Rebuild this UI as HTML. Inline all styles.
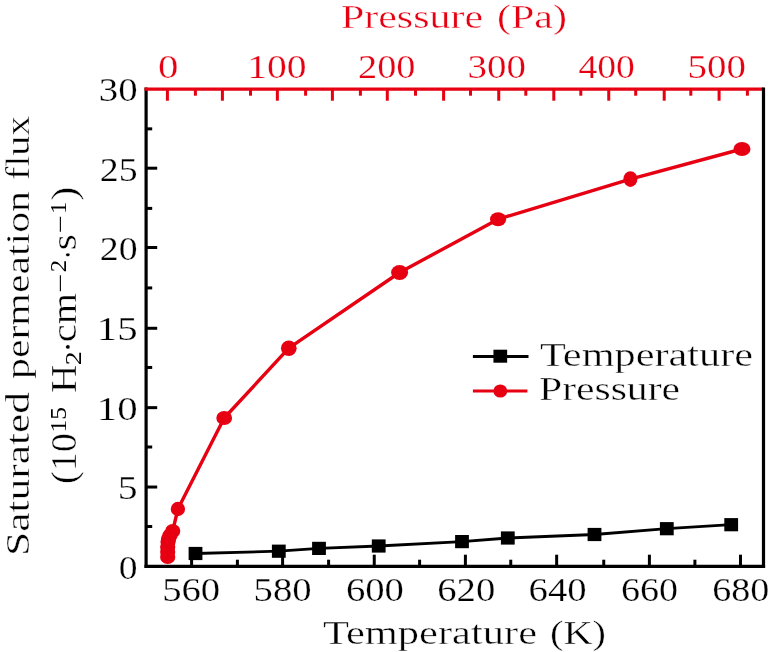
<!DOCTYPE html>
<html><head><meta charset="utf-8"><title>Saturated permeation flux</title><style>html,body{margin:0;padding:0;background:#fff;overflow:hidden}svg{display:block}</style></head><body>
<svg width="769" height="652" viewBox="0 0 769 652" font-family="'Liberation Serif', serif" stroke="#fff" stroke-width="0.55"><line x1="191.60" y1="566.30" x2="191.60" y2="554.70" stroke="#000" stroke-width="3"/>
<line x1="237.40" y1="566.30" x2="237.40" y2="559.70" stroke="#000" stroke-width="3"/>
<line x1="282.60" y1="566.30" x2="282.60" y2="554.70" stroke="#000" stroke-width="3"/>
<line x1="328.60" y1="566.30" x2="328.60" y2="559.70" stroke="#000" stroke-width="3"/>
<line x1="374.25" y1="566.30" x2="374.25" y2="554.70" stroke="#000" stroke-width="3"/>
<line x1="419.60" y1="566.30" x2="419.60" y2="559.70" stroke="#000" stroke-width="3"/>
<line x1="465.40" y1="566.30" x2="465.40" y2="554.70" stroke="#000" stroke-width="3"/>
<line x1="510.75" y1="566.30" x2="510.75" y2="559.70" stroke="#000" stroke-width="3"/>
<line x1="556.65" y1="566.30" x2="556.65" y2="554.70" stroke="#000" stroke-width="3"/>
<line x1="603.75" y1="566.30" x2="603.75" y2="559.70" stroke="#000" stroke-width="3"/>
<line x1="649.40" y1="566.30" x2="649.40" y2="554.70" stroke="#000" stroke-width="3"/>
<line x1="694.90" y1="566.30" x2="694.90" y2="559.70" stroke="#000" stroke-width="3"/>
<line x1="740.50" y1="566.30" x2="740.50" y2="554.70" stroke="#000" stroke-width="3"/>
<line x1="146.10" y1="526.53" x2="152.20" y2="526.53" stroke="#000" stroke-width="3"/>
<line x1="146.10" y1="487.03" x2="157.20" y2="487.03" stroke="#000" stroke-width="3"/>
<line x1="146.10" y1="447.00" x2="152.20" y2="447.00" stroke="#000" stroke-width="3"/>
<line x1="146.10" y1="407.65" x2="157.20" y2="407.65" stroke="#000" stroke-width="3"/>
<line x1="146.10" y1="367.46" x2="152.20" y2="367.46" stroke="#000" stroke-width="3"/>
<line x1="146.10" y1="328.28" x2="157.20" y2="328.28" stroke="#000" stroke-width="3"/>
<line x1="146.10" y1="287.93" x2="152.20" y2="287.93" stroke="#000" stroke-width="3"/>
<line x1="146.10" y1="247.50" x2="157.20" y2="247.50" stroke="#000" stroke-width="3"/>
<line x1="146.10" y1="208.39" x2="152.20" y2="208.39" stroke="#000" stroke-width="3"/>
<line x1="146.10" y1="168.20" x2="157.20" y2="168.20" stroke="#000" stroke-width="3"/>
<line x1="146.10" y1="128.86" x2="152.20" y2="128.86" stroke="#000" stroke-width="3"/>
<line x1="167.40" y1="89.10" x2="167.40" y2="100.70" stroke="#e60012" stroke-width="3"/>
<line x1="195.40" y1="89.10" x2="195.40" y2="95.70" stroke="#e60012" stroke-width="3"/>
<line x1="222.40" y1="89.10" x2="222.40" y2="100.70" stroke="#e60012" stroke-width="3"/>
<line x1="250.50" y1="89.10" x2="250.50" y2="95.70" stroke="#e60012" stroke-width="3"/>
<line x1="277.35" y1="89.10" x2="277.35" y2="100.70" stroke="#e60012" stroke-width="3"/>
<line x1="305.60" y1="89.10" x2="305.60" y2="95.70" stroke="#e60012" stroke-width="3"/>
<line x1="332.40" y1="89.10" x2="332.40" y2="100.70" stroke="#e60012" stroke-width="3"/>
<line x1="360.40" y1="89.10" x2="360.40" y2="95.70" stroke="#e60012" stroke-width="3"/>
<line x1="387.30" y1="89.10" x2="387.30" y2="100.70" stroke="#e60012" stroke-width="3"/>
<line x1="415.50" y1="89.10" x2="415.50" y2="95.70" stroke="#e60012" stroke-width="3"/>
<line x1="443.60" y1="89.10" x2="443.60" y2="100.70" stroke="#e60012" stroke-width="3"/>
<line x1="470.50" y1="89.10" x2="470.50" y2="95.70" stroke="#e60012" stroke-width="3"/>
<line x1="498.75" y1="89.10" x2="498.75" y2="100.70" stroke="#e60012" stroke-width="3"/>
<line x1="525.80" y1="89.10" x2="525.80" y2="95.70" stroke="#e60012" stroke-width="3"/>
<line x1="553.80" y1="89.10" x2="553.80" y2="100.70" stroke="#e60012" stroke-width="3"/>
<line x1="580.80" y1="89.10" x2="580.80" y2="95.70" stroke="#e60012" stroke-width="3"/>
<line x1="608.75" y1="89.10" x2="608.75" y2="100.70" stroke="#e60012" stroke-width="3"/>
<line x1="635.70" y1="89.10" x2="635.70" y2="95.70" stroke="#e60012" stroke-width="3"/>
<line x1="664.20" y1="89.10" x2="664.20" y2="100.70" stroke="#e60012" stroke-width="3"/>
<line x1="690.80" y1="89.10" x2="690.80" y2="95.70" stroke="#e60012" stroke-width="3"/>
<line x1="719.10" y1="89.10" x2="719.10" y2="100.70" stroke="#e60012" stroke-width="3"/>
<line x1="747.40" y1="89.10" x2="747.40" y2="95.70" stroke="#e60012" stroke-width="3"/>
<line x1="146.10" y1="87.50" x2="146.10" y2="567.90" stroke="#000" stroke-width="3.2"/>
<line x1="144.50" y1="566.30" x2="765.10" y2="566.30" stroke="#000" stroke-width="3.2"/>
<line x1="144.50" y1="89.10" x2="763.50" y2="89.10" stroke="#e60012" stroke-width="3.2"/>
<line x1="763.50" y1="87.50" x2="763.50" y2="567.90" stroke="#000" stroke-width="3.2"/>
<polyline fill="none" stroke="#000" stroke-width="2.8" stroke-linejoin="round" points="195.5,553.5 278.8,551.2 319,548.4 378.7,546 462,541.6 507.8,538 594.5,534.5 666.8,528.7 731.2,524.7"/>
<rect x="188.60" y="546.90" width="13.8" height="13.2" fill="#000" stroke="none"/>
<rect x="271.90" y="544.60" width="13.8" height="13.2" fill="#000" stroke="none"/>
<rect x="312.10" y="541.80" width="13.8" height="13.2" fill="#000" stroke="none"/>
<rect x="371.80" y="539.40" width="13.8" height="13.2" fill="#000" stroke="none"/>
<rect x="455.10" y="535.00" width="13.8" height="13.2" fill="#000" stroke="none"/>
<rect x="500.90" y="531.40" width="13.8" height="13.2" fill="#000" stroke="none"/>
<rect x="587.60" y="527.90" width="13.8" height="13.2" fill="#000" stroke="none"/>
<rect x="659.90" y="522.10" width="13.8" height="13.2" fill="#000" stroke="none"/>
<rect x="724.30" y="518.10" width="13.8" height="13.2" fill="#000" stroke="none"/>
<polyline fill="none" stroke="#e60012" stroke-width="3.4" stroke-linejoin="round" points="167.7,557 167.7,552 167.7,547 168,542 168.5,539 170,535.5 172.7,531 177.9,509 224.2,418 288.8,348.2 399.6,272.5 498.1,219.2 630.4,179.1 742,149"/>
<ellipse cx="167.7" cy="557" rx="7.6" ry="7.0" fill="#e60012" stroke="none"/>
<ellipse cx="167.7" cy="552" rx="7.6" ry="7.0" fill="#e60012" stroke="none"/>
<ellipse cx="167.7" cy="547" rx="7.6" ry="7.0" fill="#e60012" stroke="none"/>
<ellipse cx="168" cy="542" rx="7.6" ry="7.0" fill="#e60012" stroke="none"/>
<ellipse cx="168.5" cy="539" rx="7.6" ry="7.0" fill="#e60012" stroke="none"/>
<ellipse cx="170" cy="535.5" rx="7.6" ry="7.0" fill="#e60012" stroke="none"/>
<ellipse cx="172.7" cy="531" rx="7.6" ry="7.0" fill="#e60012" stroke="none"/>
<ellipse cx="177.9" cy="509" rx="7.15" ry="7.15" fill="#e60012" stroke="none"/>
<ellipse cx="224.2" cy="418" rx="7.9" ry="6.95" fill="#e60012" stroke="none"/>
<ellipse cx="288.8" cy="348.2" rx="7.85" ry="7.7" fill="#e60012" stroke="none"/>
<ellipse cx="399.6" cy="272.5" rx="8.5" ry="7.5" fill="#e60012" stroke="none"/>
<ellipse cx="498.1" cy="219.2" rx="8.05" ry="7.05" fill="#e60012" stroke="none"/>
<ellipse cx="630.4" cy="179.1" rx="7.05" ry="7.8" fill="#e60012" stroke="none"/>
<ellipse cx="742" cy="149" rx="8.5" ry="7.05" fill="#e60012" stroke="none"/>
<line x1="472.9" y1="356.5" x2="528.5" y2="356.5" stroke="#000" stroke-width="3"/>
<rect x="493.45" y="349.7" width="13.7" height="13" fill="#000" stroke="none"/>
<line x1="472.9" y1="391.1" x2="527.4" y2="391.1" stroke="#e60012" stroke-width="3"/>
<ellipse cx="500.3" cy="391.0" rx="6.9" ry="6.6" fill="#e60012" stroke="none"/>
<text x="158.00" y="77.60" font-size="34.50" fill="#e60012" stroke-width="0.25" textLength="20.400" lengthAdjust="spacingAndGlyphs">0</text>
<text x="247.20" y="77.60" font-size="34.50" fill="#e60012" stroke-width="0.25" textLength="59.400" lengthAdjust="spacingAndGlyphs">100</text>
<text x="358.10" y="77.60" font-size="34.50" fill="#e60012" stroke-width="0.25" textLength="57.400" lengthAdjust="spacingAndGlyphs">200</text>
<text x="467.50" y="77.60" font-size="34.50" fill="#e60012" stroke-width="0.25" textLength="58.400" lengthAdjust="spacingAndGlyphs">300</text>
<text x="578.50" y="77.60" font-size="34.50" fill="#e60012" stroke-width="0.25" textLength="56.400" lengthAdjust="spacingAndGlyphs">400</text>
<text x="687.50" y="77.60" font-size="34.50" fill="#e60012" stroke-width="0.25" textLength="58.400" lengthAdjust="spacingAndGlyphs">500</text>
<text x="118.80" y="578.60" font-size="34.50" stroke-width="0.25" textLength="18.800" lengthAdjust="spacingAndGlyphs">0</text>
<text x="117.80" y="499.06" font-size="34.50" stroke-width="0.25" textLength="19.800" lengthAdjust="spacingAndGlyphs">5</text>
<text x="96.80" y="419.53" font-size="34.50" stroke-width="0.25" textLength="40.800" lengthAdjust="spacingAndGlyphs">10</text>
<text x="96.80" y="339.99" font-size="34.50" stroke-width="0.25" textLength="40.800" lengthAdjust="spacingAndGlyphs">15</text>
<text x="99.80" y="260.46" font-size="34.50" stroke-width="0.25" textLength="37.800" lengthAdjust="spacingAndGlyphs">20</text>
<text x="99.80" y="180.92" font-size="34.50" stroke-width="0.25" textLength="37.800" lengthAdjust="spacingAndGlyphs">25</text>
<text x="98.80" y="101.39" font-size="34.50" stroke-width="0.25" textLength="38.800" lengthAdjust="spacingAndGlyphs">30</text>
<text x="162.20" y="601.00" font-size="34.50" stroke-width="0.25" textLength="58.000" lengthAdjust="spacingAndGlyphs">560</text>
<text x="253.56" y="601.00" font-size="34.50" stroke-width="0.25" textLength="58.000" lengthAdjust="spacingAndGlyphs">580</text>
<text x="345.92" y="601.00" font-size="34.50" stroke-width="0.25" textLength="58.000" lengthAdjust="spacingAndGlyphs">600</text>
<text x="437.28" y="601.00" font-size="34.50" stroke-width="0.25" textLength="58.000" lengthAdjust="spacingAndGlyphs">620</text>
<text x="528.64" y="601.00" font-size="34.50" stroke-width="0.25" textLength="58.000" lengthAdjust="spacingAndGlyphs">640</text>
<text x="621.00" y="601.00" font-size="34.50" stroke-width="0.25" textLength="57.000" lengthAdjust="spacingAndGlyphs">660</text>
<text x="712.36" y="601.00" font-size="34.50" stroke-width="0.25" textLength="57.000" lengthAdjust="spacingAndGlyphs">680</text>
<text x="341.00" y="27.60" font-size="33.50" fill="#e60012" stroke-width="0.4" textLength="142.000" lengthAdjust="spacingAndGlyphs">Pressure</text>
<text x="497.00" y="27.60" font-size="33.50" fill="#e60012" stroke-width="0.4" textLength="70.000" lengthAdjust="spacingAndGlyphs">(Pa)</text>
<text x="323.00" y="644.00" font-size="33.50" stroke-width="0.4" textLength="214.000" lengthAdjust="spacingAndGlyphs">Temperature</text>
<text x="550.00" y="644.00" font-size="33.50" stroke-width="0.4" textLength="56.000" lengthAdjust="spacingAndGlyphs">(K)</text>
<text x="540.00" y="366.20" font-size="33.50" stroke-width="0.4" textLength="213.000" lengthAdjust="spacingAndGlyphs">Temperature</text>
<text x="539.00" y="400.20" font-size="33.50" stroke-width="0.4" textLength="141.000" lengthAdjust="spacingAndGlyphs">Pressure</text>
<text transform="translate(28.60,556.00) rotate(-90)" font-size="33.50" stroke-width="0.4" textLength="164.000" lengthAdjust="spacingAndGlyphs">Saturated</text>
<text transform="translate(28.60,379.00) rotate(-90)" font-size="33.50" stroke-width="0.4" textLength="188.000" lengthAdjust="spacingAndGlyphs">permeation</text>
<text transform="translate(28.60,180.00) rotate(-90)" font-size="33.50" stroke-width="0.4" textLength="64.000" lengthAdjust="spacingAndGlyphs">flux</text>
<text transform="translate(76.30,484.00) rotate(-90)" font-size="35.20" stroke-width="0.4" textLength="51.000" lengthAdjust="spacingAndGlyphs">(10</text>
<text transform="translate(65.70,432.60) rotate(-90)" font-size="23.00" stroke-width="0.0" textLength="25.600" lengthAdjust="spacingAndGlyphs">15</text>
<text transform="translate(76.30,392.80) rotate(-90)" font-size="35.20" stroke-width="0.4" textLength="28.000" lengthAdjust="spacingAndGlyphs">H</text>
<text transform="translate(81.20,365.20) rotate(-90)" font-size="23.00" stroke-width="0.0" textLength="14.000" lengthAdjust="spacingAndGlyphs">2</text>
<text transform="translate(79.50,353.00) rotate(-90)" font-size="35.20" stroke-width="0.4" textLength="12.200" lengthAdjust="spacingAndGlyphs">·</text>
<text transform="translate(76.30,342.20) rotate(-90)" font-size="35.20" stroke-width="0.4" textLength="49.200" lengthAdjust="spacingAndGlyphs">cm</text>
<text transform="translate(68.20,292.80) rotate(-90)" font-size="23.00" stroke-width="0.0" textLength="19.200" lengthAdjust="spacingAndGlyphs">−</text>
<text transform="translate(65.70,272.20) rotate(-90)" font-size="23.00" stroke-width="0.0" textLength="12.400" lengthAdjust="spacingAndGlyphs">2</text>
<text transform="translate(79.50,259.80) rotate(-90)" font-size="35.20" stroke-width="0.4" textLength="9.800" lengthAdjust="spacingAndGlyphs">·</text>
<text transform="translate(76.30,250.40) rotate(-90)" font-size="35.20" stroke-width="0.4" textLength="16.400" lengthAdjust="spacingAndGlyphs">s</text>
<text transform="translate(68.20,233.20) rotate(-90)" font-size="23.00" stroke-width="0.0" textLength="18.200" lengthAdjust="spacingAndGlyphs">−</text>
<text transform="translate(65.70,213.80) rotate(-90)" font-size="23.00" stroke-width="0.0" textLength="11.800" lengthAdjust="spacingAndGlyphs">1</text>
<text transform="translate(76.30,200.40) rotate(-90)" font-size="35.20" stroke-width="0.4" textLength="13.800" lengthAdjust="spacingAndGlyphs">)</text></svg>
</body></html>
